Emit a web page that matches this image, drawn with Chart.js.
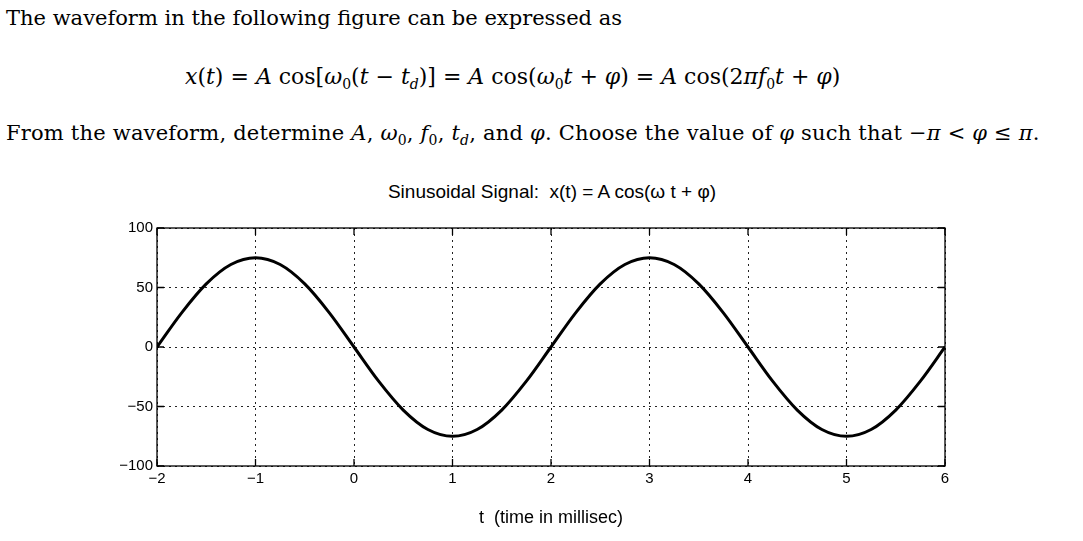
<!DOCTYPE html>
<html>
<head>
<meta charset="utf-8">
<script src="https://cdn.jsdelivr.net/npm/chart.js@4"></script>
<style>
  body { margin: 0; width: 1083px; height: 541px; background: #fff; position: relative; overflow: hidden; color: #000; }
  .txt { position: absolute; font-family: "DejaVu Serif", "Liberation Serif", serif; font-size: 21px; white-space: nowrap; }
  .txt sub { font-size: 14px; }
  i { font-style: italic; }
  #title { position: absolute; top: 181px; left: 0; width: 1104px; text-align: center;
           font-family: "Liberation Sans", Arial, sans-serif; font-size: 19px; }
  #wrap { position: absolute; left: 0; top: 215px; width: 1083px; height: 326px; }
</style>
</head>
<body>
<div class="txt" style="left:6px; top:6px; font-size:21px;">The waveform in the following figure can be expressed as</div>
<div class="txt" style="left:185px; top:64px; font-size:22px;"><i>x</i>(<i>t</i>) = <i>A</i> cos[<i>ω</i><sub>0</sub>(<i>t</i> − <i>t<sub>d</sub></i>)] = <i>A</i> cos(<i>ω</i><sub>0</sub><i>t</i> + <i>φ</i>) = <i>A</i> cos(2<i>πf</i><sub>0</sub><i>t</i> + <i>φ</i>)</div>
<div class="txt" style="left:6px; top:121px; font-size:21px; letter-spacing:0.2px;">From the waveform, determine <i>A</i>, <i>ω</i><sub>0</sub>, <i>f</i><sub>0</sub>, <i>t<sub>d</sub></i>, and <i>φ</i>. Choose the value of <i>φ</i> such that −<i>π</i> &lt; <i>φ</i> ≤ <i>π</i>.</div>
<div id="title">Sinusoidal Signal:&nbsp; x(t) = A cos(ω t + φ)</div>
<div id="wrap"><canvas id="c"></canvas></div>
<script>
// samples every 0.25 ms
const tValues = [-2, -1.75, -1.5, -1.25, -1, -0.75, -0.5, -0.25, 0, 0.25, 0.5, 0.75, 1, 1.25, 1.5, 1.75, 2,
                 2.25, 2.5, 2.75, 3, 3.25, 3.5, 3.75, 4, 4.25, 4.5, 4.75, 5, 5.25, 5.5, 5.75, 6];
const xValues = [0, 28.7, 53, 69.3, 75, 69.3, 53, 28.7, 0, -28.7, -53, -69.3, -75, -69.3, -53, -28.7, 0,
                 28.7, 53, 69.3, 75, 69.3, 53, 28.7, 0, -28.7, -53, -69.3, -75, -69.3, -53, -28.7, 0];
const xTicks = [-2, -1, 0, 1, 2, 3, 4, 5, 6];
const yTicks = [-100, -50, 0, 50, 100];

const minus = v => String(v).replace('-', '\u2212');

// box around plot + inward tick marks
const boxPlugin = {
  id: 'box',
  afterDraw(chart) {
    const { ctx, chartArea: a, scales } = chart;
    ctx.save();
    ctx.strokeStyle = '#000';
    ctx.lineWidth = 1.3;
    ctx.strokeRect(a.left, a.top, a.right - a.left, a.bottom - a.top);
    ctx.beginPath();
    xTicks.forEach(v => {
      const x = scales.x.getPixelForValue(v);
      ctx.moveTo(x, a.bottom); ctx.lineTo(x, a.bottom - 7);
      ctx.moveTo(x, a.top); ctx.lineTo(x, a.top + 7);
    });
    yTicks.forEach(v => {
      const y = scales.y.getPixelForValue(v);
      ctx.moveTo(a.left, y); ctx.lineTo(a.left + 7, y);
      ctx.moveTo(a.right, y); ctx.lineTo(a.right - 7, y);
    });
    ctx.stroke();
    ctx.restore();
  }
};

const tickFont = { family: '"Liberation Sans", Arial, sans-serif', size: 15 };
const gridStyle = { color: '#222', lineWidth: 1, tickLength: 0, drawTicks: false };

new Chart(document.getElementById('c'), {
  type: 'line',
  data: {
    datasets: [{
      data: tValues.map((t, i) => ({ x: t, y: xValues[i] })),
      borderColor: '#000',
      borderWidth: 3,
      pointRadius: 0,
      cubicInterpolationMode: 'monotone',
      fill: false
    }]
  },
  options: {
    animation: false,
    responsive: true,
    maintainAspectRatio: false,
    layout: { padding: { top: 12, right: 138, bottom: 12, left: 0 } },
    plugins: { legend: { display: false }, tooltip: { enabled: false } },
    scales: {
      x: {
        type: 'linear', min: -2, max: 6,
        afterBuildTicks: s => { s.ticks = xTicks.map(v => ({ value: v })); },
        afterFit: s => { s.height = 63; },
        grid: gridStyle,
        border: { display: false, dash: [2, 4] },
        ticks: { font: tickFont, color: '#000', padding: 4, callback: v => minus(v) },
        title: { display: true, text: 't  (time in millisec)', font: { ...tickFont, size: 18 }, color: '#000', padding: { top: 0, bottom: 0 } }
      },
      y: {
        min: -100, max: 100,
        afterBuildTicks: s => { s.ticks = yTicks.map(v => ({ value: v })); },
        afterFit: s => { s.width = 157; },
        grid: gridStyle,
        border: { display: false, dash: [2, 4] },
        ticks: { font: tickFont, color: '#000', padding: 4, callback: v => minus(v) }
      }
    }
  },
  plugins: [boxPlugin]
});
</script>
</body>
</html>
